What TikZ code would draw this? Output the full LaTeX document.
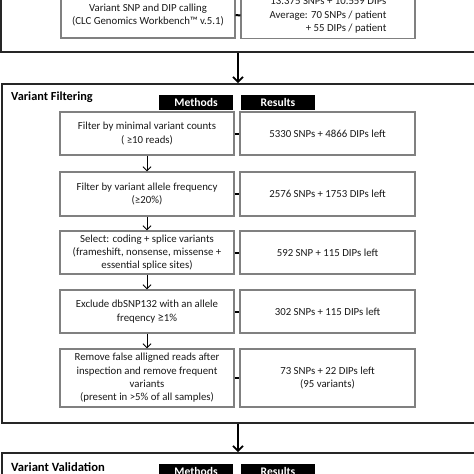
\documentclass[tikz,border=0pt]{standalone}
\usepackage{fontspec}
\setmainfont{Carlito}
\usetikzlibrary{arrows.meta}
\definecolor{txt}{HTML}{1A1A1A}
\definecolor{boxline}{HTML}{808080}
\begin{document}
\begin{tikzpicture}[x=1pt,y=-1pt,
  outerbox/.style={draw=black!85,line width=1.6pt,inner sep=0pt},
  mbox/.style={draw=boxline,line width=1.1pt,minimum width=174pt,inner sep=1pt,align=center,text=txt,font=\fontsize{10.8}{13.3}\selectfont},
  hdr/.style={fill=black,text=white,minimum width=74pt,minimum height=15pt,inner sep=0pt,font=\bfseries\fontsize{11.6}{12}\selectfont},
  ttl/.style={anchor=west,inner sep=0pt,text=black,font=\bfseries\fontsize{12.3}{14}\selectfont},
  stub/.style={line width=2pt,black},
  smallarrow/.style={line width=1pt,black,-{Straight Barb[length=4pt,width=8pt,line width=1pt]}},
  bigarrow/.style={line width=1.8pt,black,-{Straight Barb[length=5pt,width=10pt,line width=1.8pt]}}
]
\useasboundingbox (0,0) rectangle (474,474);
\clip (0,0) rectangle (474,474);
\fill[white] (0,0) rectangle (474,474);

% outer boxes
\node[outerbox,minimum width=489pt,minimum height=82pt] (top) at (245.5,11) {};
\node[outerbox,minimum width=488pt,minimum height=339pt] (filt) at (246,253.5) {};
\node[outerbox,minimum width=488pt,minimum height=87pt] (valid) at (246,496.5) {};
\coordinate (mid) at (238,0);

% top box contents
\node[mbox,minimum height=46pt] (m0) at (148,15) {Variant SNP and DIP calling\\(CLC Genomics Workbench™ v.5.1)};
\node[mbox,minimum width=174pt,minimum height=46pt,align=right] (r0) at (328,15.5) {13.375 SNPs + 10.559 DIPs\\Average: 70 SNPs / patient\\+ 55 DIPs / patient};
\draw[stub] (m0.east) -- (r0.west);

% filtering
\node[ttl] (tf) at (11,97) {Variant Filtering};
\node[hdr] (hm1) at (196,102.5) {Methods};
\node[hdr] (hr1) at (278,102.5) {Results};

\node[mbox,minimum height=43pt] (m1) at (147,133.5) {Filter by minimal variant counts\\( ≥10 reads)};
\node[mbox,minimum width=175pt,minimum height=43pt] (r1) at (327.5,133.5) {5330 SNPs + 4866 DIPs left};
\node[mbox,minimum height=44pt] (m2) at (147,194) {Filter by variant allele frequency\\(≥20\%)};
\node[mbox,minimum width=175pt,minimum height=44pt] (r2) at (327.5,194) {2576 SNPs + 1753 DIPs left};
\node[mbox,minimum height=43pt] (m3) at (147,252.5) {Select: coding + splice variants\\(frameshift, nonsense, missense +\\essential splice sites)};
\node[mbox,minimum width=175pt,minimum height=43pt] (r3) at (327.5,252.5) {592 SNP + 115 DIPs left};
\node[mbox,minimum height=43pt] (m4) at (147,311.5) {Exclude dbSNP132 with an allele\\freqency {\fontsize{12.5}{13}\selectfont≥}1\%};
\node[mbox,minimum width=175pt,minimum height=43pt] (r4) at (327.5,311.5) {302 SNPs + 115 DIPs left};
\node[mbox,minimum height=58pt] (m5) at (147,378) {Remove false alligned reads after\\inspection and remove frequent\\variants\\(present in >5\% of all samples)};
\node[mbox,minimum width=175pt,minimum height=58pt] (r5) at (327.5,378) {73 SNPs + 22 DIPs left\\(95 variants)};

\foreach \i in {1,...,5} {\draw[stub] (m\i.east) -- (r\i.west);}
\foreach \i/\j in {1/2,2/3,3/4,4/5} {\draw[smallarrow] (m\i.south) -- (m\j.north);}

% validation
\node[ttl,font=\bfseries\fontsize{12.6}{14}\selectfont] (tv) at (11,467) {Variant Validation};
\node[hdr] (hm2) at (196,471.5) {Methods};
\node[hdr] (hr2) at (278,471.5) {Results};

% main arrows
\draw[bigarrow] (top.south -| mid) -- (filt.north -| mid);
\draw[bigarrow] (filt.south -| mid) -- (valid.north -| mid);
\end{tikzpicture}
\end{document}
